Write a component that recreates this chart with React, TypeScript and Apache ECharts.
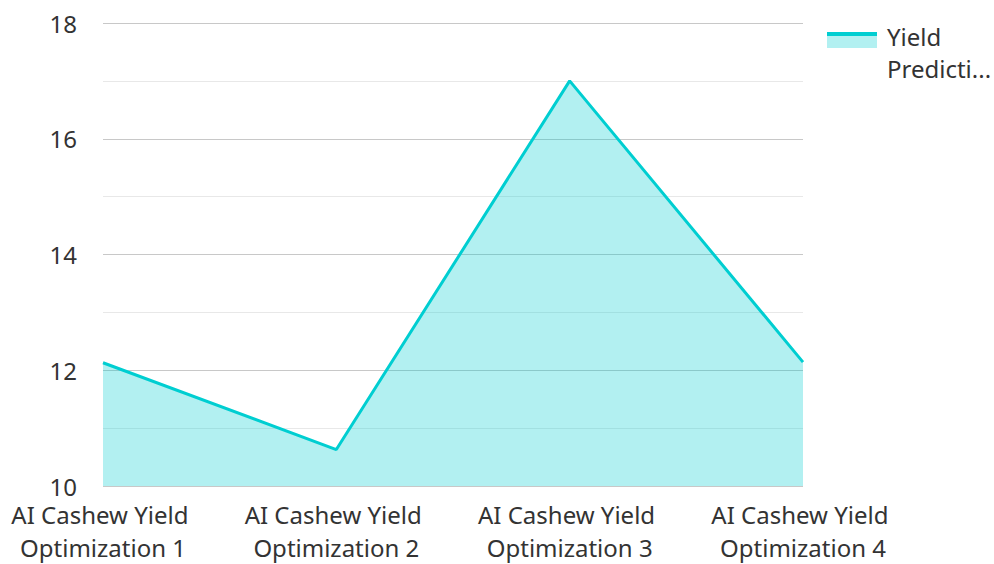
import React, { useEffect, useRef } from "react";
import * as echarts from "echarts";

const categories = [
  "AI Cashew Yield Optimization 1",
  "AI Cashew Yield Optimization 2",
  "AI Cashew Yield Optimization 3",
  "AI Cashew Yield Optimization 4",
];
const seriesName = "Yield Prediction";
const yieldValues = [12.13, 10.63, 17.0, 12.14];
const yMin = 10;
const yMax = 18;
const yInterval = 2;

export default function App() {
  const ref = useRef<HTMLDivElement>(null);
  useEffect(() => {
    if (!ref.current) return;
    const chart = echarts.init(ref.current, undefined, { renderer: "svg" });
    const font = "'Noto Sans', 'Open Sans', sans-serif";
    const iconGradient = new echarts.graphic.LinearGradient(0, 0, 0, 1, [
      { offset: 0, color: "#00CED1" },
      { offset: 0.11, color: "#00CED1" },
      { offset: 0.11, color: "#B2F0F1" },
      { offset: 0.4, color: "#B2F0F1" },
      { offset: 0.4, color: "rgba(255,255,255,0)" },
      { offset: 1, color: "rgba(255,255,255,0)" },
    ]);
    chart.setOption({
      animation: false,
      textStyle: { fontFamily: font },
      grid: { left: 100, right: 191, top: 23, bottom: 74, containLabel: false },
      legend: {
        data: [{ name: seriesName, icon: "rect", itemStyle: { color: iconGradient } }],
        left: 827,
        top: 20,
        padding: 0,
        itemWidth: 50,
        itemHeight: 40,
        itemGap: 10,
        formatter: () => "Yield\nPredicti...",
        textStyle: {
          fontFamily: font,
          fontSize: 24,
          color: "#333",
          lineHeight: 32,
          padding: [0, 0, 0, 5],
        },
      },
      xAxis: {
        type: "category",
        data: categories,
        boundaryGap: false,
        axisLine: { show: false },
        axisTick: { show: false },
        axisLabel: {
          interval: 0,
          fontSize: 24,
          color: "#333",
          lineHeight: 33,
          margin: 12,
          width: 200,
          overflow: "break",
          fontFamily: font,
        },
      },
      yAxis: {
        type: "value",
        min: yMin,
        max: yMax,
        interval: yInterval,
        axisLine: { show: false },
        axisTick: { show: false },
        axisLabel: { fontSize: 24, color: "#333", margin: 26, fontFamily: font },
        splitLine: { lineStyle: { color: "#c8c8c8", width: 1 } },
        minorTick: { show: false, splitNumber: 2 },
        minorSplitLine: { show: true, lineStyle: { color: "#e8e8e8", width: 1 } },
      },
      series: [
        {
          name: seriesName,
          type: "line",
          data: yieldValues,
          symbol: "none",
          lineStyle: { color: "#00CED1", width: 3 },
          itemStyle: { color: "#00CED1" },
          areaStyle: { color: "#00CED1", opacity: 0.3 },
        },
      ],
    });
    return () => chart.dispose();
  }, []);
  return <div ref={ref} style={{ width: 994, height: 564, position: "absolute", left: 0, top: 0 }} />;
}
